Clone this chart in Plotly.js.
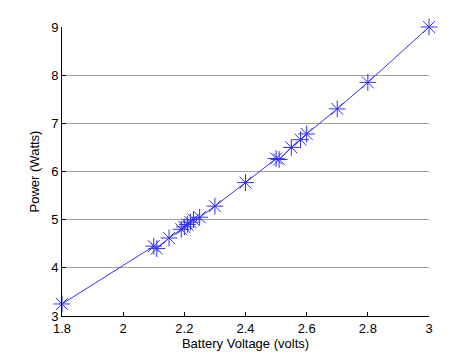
<!DOCTYPE html>
<html>
<head>
<meta charset="utf-8">
<script src="https://cdn.plot.ly/plotly-3.0.1.min.js"></script>
<style>html,body{margin:0;padding:0;background:#fff;}#chart{width:474px;height:355px;}</style>
</head>
<body>
<div id="chart"></div>
<script>
const voltage = [1.8, 2.1, 2.11, 2.15, 2.19, 2.2, 2.21, 2.22, 2.23, 2.25, 2.3, 2.4, 2.5, 2.51, 2.55, 2.58, 2.6, 2.7, 2.8, 3.0];
const power = [3.25, 4.45, 4.4, 4.62, 4.8, 4.85, 4.9, 4.95, 5.0, 5.05, 5.28, 5.77, 6.27, 6.25, 6.5, 6.66, 6.78, 7.3, 7.85, 9.0];
const xTicks = [1.8, 2, 2.2, 2.4, 2.6, 2.8, 3];
const yTicks = [3, 4, 5, 6, 7, 8, 9];

const trace = {
  x: voltage, y: power, type: 'scatter', mode: 'lines+markers', cliponaxis: false,
  line: {color: '#3030ff', width: 1},
  marker: {symbol: 'asterisk-open', size: 14, color: '#3030ff', line: {color: '#3030ff', width: 1}}
};
const font = {family: 'Liberation Sans, Arial, Helvetica, sans-serif', size: 13, color: '#000'};
const layout = {
  width: 474, height: 355,
  margin: {l: 62, r: 45, t: 27, b: 39, pad: 0},
  paper_bgcolor: '#fff', plot_bgcolor: '#fff',
  showlegend: false,
  font: font,
  xaxis: {
    range: [1.8, 3], tickvals: xTicks, ticktext: xTicks.map(String),
    showgrid: false, zeroline: false, showline: true, linecolor: '#000', linewidth: 1,
    ticks: 'inside', ticklen: 4, tickcolor: '#000', tickfont: font,
    title: {text: 'Battery Voltage (volts)', font: font, standoff: 1}
  },
  yaxis: {
    range: [3, 9], tickvals: yTicks, ticktext: yTicks.map(String),
    showgrid: true, gridcolor: '#a0a0a0', gridwidth: 1,
    zeroline: false, showline: true, linecolor: '#000', linewidth: 1,
    ticks: 'inside', ticklen: 4, tickcolor: '#000', tickfont: font,
    title: {text: 'Power (Watts)', font: font, standoff: 8}
  }
};
Plotly.newPlot('chart', [trace], layout, {displayModeBar: false, staticPlot: true});
</script>
</body>
</html>
